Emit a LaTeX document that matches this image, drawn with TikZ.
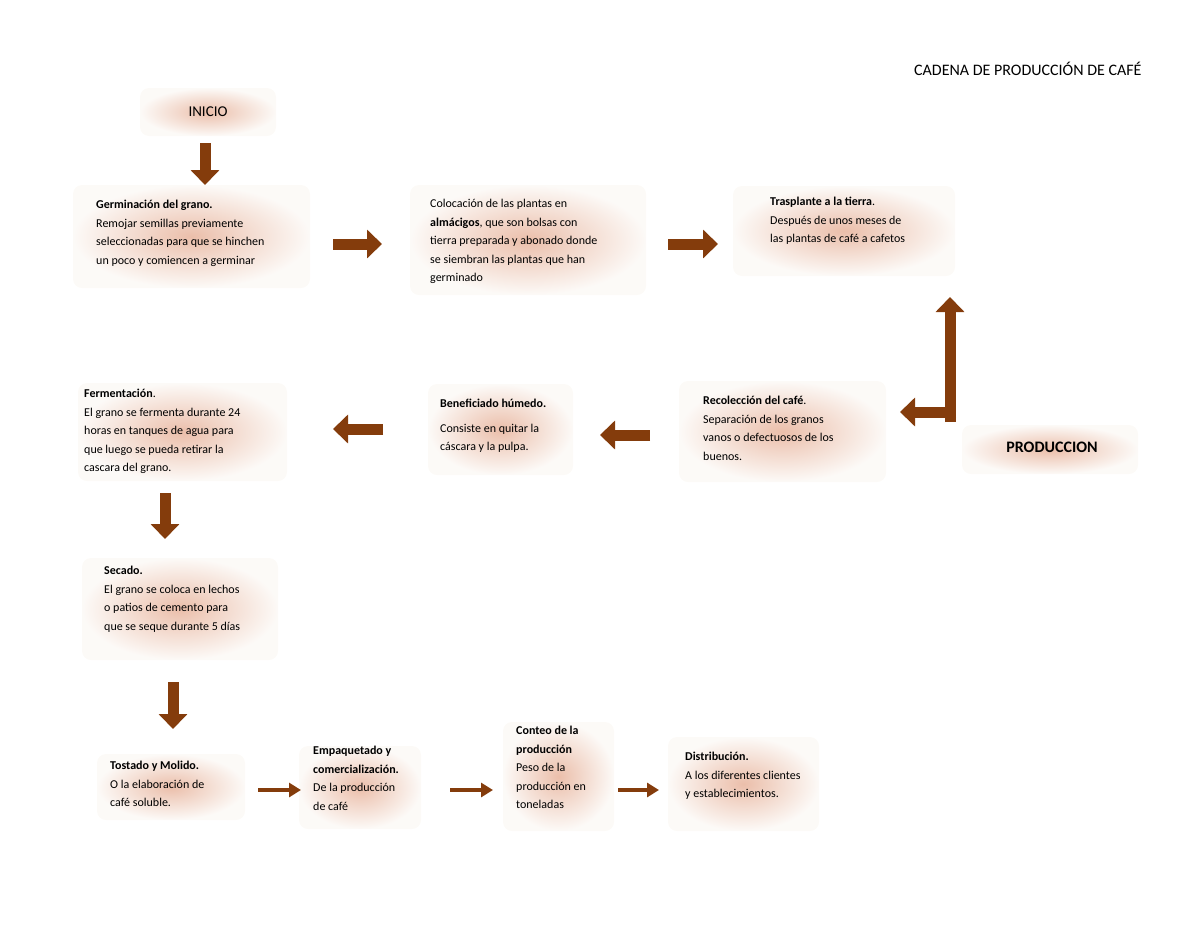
\documentclass[tikz,border=0pt]{standalone}
\usepackage{fontspec}
\setmainfont{Carlito}
\usetikzlibrary{positioning,arrows.meta}

\begin{document}
\begin{tikzpicture}[x=1pt,y=-1pt]
		\tikzset{box/.style = {rounded corners=9pt,inner color=brown!45!pink!70!white,outer color=white!96!brown,draw=none}}
		\tikzset{txt/.style = {anchor=north west,align=left,inner sep=0pt,font=\fontsize{12}{18.5}\selectfont}}
		\tikzset{big/.style = {-{Triangle[width=28pt,length=15pt]},line width=11pt,draw=brown!70!black!90!red}}
		\tikzset{small/.style = {-{Triangle[width=14pt,length=12pt]},line width=4pt,draw=brown!70!black!90!red}}
		\definecolor{arrowc}{HTML}{843C0C}
		\tikzset{big/.append style={draw=arrowc},small/.append style={draw=arrowc}}

		\useasboundingbox (0,0) rectangle (1200,927);

		% title
		\node[anchor=east,font=\fontsize{16}{18}\selectfont] (title) at (1145,69) {CADENA DE PRODUCCIÓN DE CAFÉ};

		% boxes
		\path[box] (140,88) rectangle (276,136);
		\node[font=\fontsize{15}{18}\selectfont] (inicio) at (208,112) {INICIO};
		\path[box] (73,185) rectangle (310,288);
		\node[txt] (germ) at (96,200) {\textbf{Germinación del grano.}\\Remojar semillas previamente\\seleccionadas para que se hinchen\\un poco y comiencen a germinar};
		\path[box] (410,185) rectangle (646,295);
		\node[txt] (coloc) at (430,199) {Colocación de las plantas en\\\textbf{almácigos}, que son bolsas con\\tierra preparada y abonado donde\\se siembran las plantas que han\\germinado};
		\path[box] (733,186) rectangle (955,276);
		\node[txt] (trasp) at (770,197) {\textbf{Trasplante a la tierra}.\\Después de unos meses de\\las plantas de café a cafetos};
		\path[box] (679,381) rectangle (886,482);
		\node[txt] (recol) at (703,396) {\textbf{Recolección del café}.\\Separación de los granos\\vanos o defectuosos de los\\buenos.};
		\path[box] (962,425) rectangle (1138,474);
		\node[font=\bfseries\fontsize{16}{18}\selectfont] (prod) at (1052,447) {PRODUCCION};
		\path[box] (428,384) rectangle (573,475);
		\node[txt] (benef) at (440,399) {\textbf{Beneficiado húmedo.}\\[6pt]Consiste en quitar la\\cáscara y la pulpa.};
		\path[box] (78,383) rectangle (287,481);
		\node[txt] (ferm) at (84,389) {\textbf{Fermentación}.\\El grano se fermenta durante 24\\horas en tanques de agua para\\que luego se pueda retirar la\\cascara del grano.};
		\path[box] (82,558) rectangle (278,660);
		\node[txt] (secado) at (104,566) {\textbf{Secado.}\\El grano se coloca en lechos\\o patios de cemento para\\que se seque durante 5 días};
		\path[box] (97,754) rectangle (245,820);
		\node[txt] (tost) at (110,761) {\textbf{Tostado y Molido.}\\O la elaboración de\\café soluble.};
		\path[box] (299,746) rectangle (421,829);
		\node[txt] (empaq) at (313,746) {\textbf{Empaquetado y}\\\textbf{comercialización.}\\De la producción\\de café};
		\path[box] (503,722) rectangle (614,831);
		\node[txt] (conteo) at (516,726) {\textbf{Conteo de la}\\\textbf{producción}\\Peso de la\\producción en\\toneladas};
		\path[box] (668,737) rectangle (819,831);
		\node[txt] (distr) at (685,752) {\textbf{Distribución.}\\A los diferentes clientes\\y establecimientos.};

		% arrow ends
		\coordinate (a1) at (205,143); \coordinate (a2) at (205,185);
		\coordinate (b1) at (333,244); \coordinate (b2) at (382,244);
		\coordinate (c1) at (668,244); \coordinate (c2) at (718,244);
		\coordinate (d0) at (956,412); \coordinate (d1) at (950,422); \coordinate (d2) at (950,297);
		\coordinate (d3) at (900,412);
		\coordinate (e1) at (650,435); \coordinate (e2) at (600,435);
		\coordinate (f1) at (383,429); \coordinate (f2) at (333,429);
		\coordinate (g1) at (165,493); \coordinate (g2) at (165,539);
		\coordinate (h1) at (173,682); \coordinate (h2) at (173,729);
		\coordinate (i1) at (258,790); \coordinate (i2) at (301,790);
		\coordinate (j1) at (450,790); \coordinate (j2) at (493,790);
		\coordinate (k1) at (618,790); \coordinate (k2) at (659,790);

		% arrows
		\draw[big] (a1) to (a2);
		\draw[big] (b1) to (b2);
		\draw[big] (c1) to (c2);
		\draw[big] (d1) to (d2);
		\draw[big] (d0) to (d3);
		\draw[big] (e1) to (e2);
		\draw[big] (f1) to (f2);
		\draw[big] (g1) to (g2);
		\draw[big] (h1) to (h2);
		\draw[small] (i1) to (i2);
		\draw[small] (j1) to (j2);
		\draw[small] (k1) to (k2);
	\end{tikzpicture}
\end{document}
